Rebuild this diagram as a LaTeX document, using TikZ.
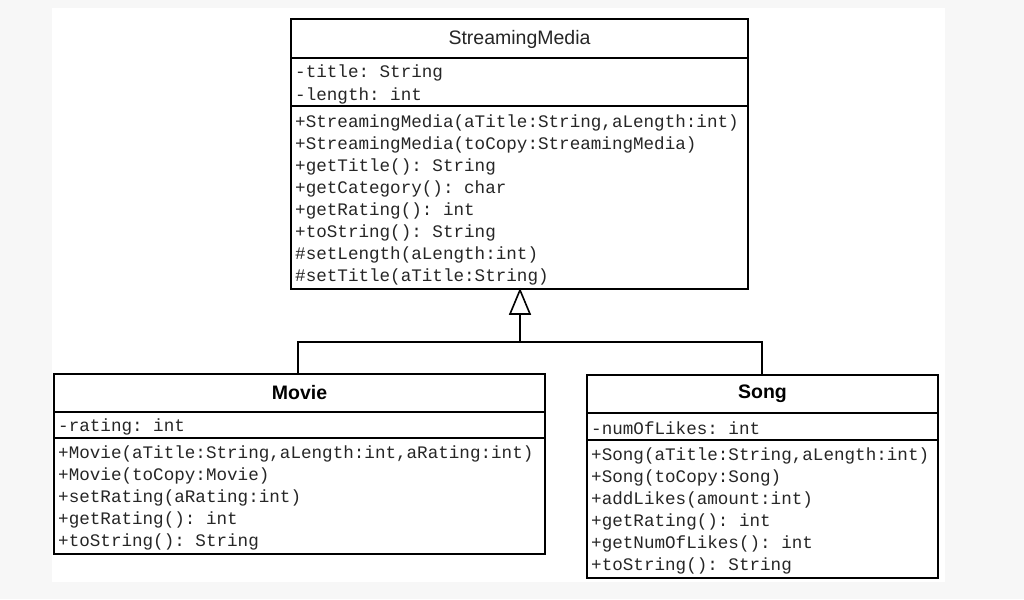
\documentclass[tikz,border=0pt]{standalone}
\usepackage{fontspec}
\setmainfont{Liberation Sans}
\setmonofont{Liberation Mono}
\begin{document}
\begin{tikzpicture}[x=1pt,y=-1pt,
  box/.style={draw,line width=1.6pt},
  mono/.style={anchor=west,inner sep=0pt,font=\ttfamily\fontsize{17.6}{19}\selectfont,text=black!85},
  ttl/.style={inner sep=0pt,font=\fontsize{19.5}{22}\selectfont},
  con/.style={line width=1.6pt}]
\fill[gray!6] (0,0) rectangle (1024,599);
\fill[white] (52,8) rectangle (945,582);
\useasboundingbox (0,0) rectangle (1024,599);
% StreamingMedia
\draw[box] (291,19) rectangle (748,289);
\draw[box] (291,58) -- (748,58);
\draw[box] (291,106) -- (748,106);
\node[ttl,text=black!85] (smt) at (519.5,39) {StreamingMedia};
\foreach \t [count=\i] in {-title: String,-length: int}
  \node[mono] (sa\i) at (295,{73+23*(\i-1)}) {\t};
\foreach \t [count=\i] in {+StreamingMedia(aTitle:String{,}aLength:int),+StreamingMedia(toCopy:StreamingMedia),+getTitle(): String,+getCategory(): char,+getRating(): int,+toString(): String,\#setLength(aLength:int),\#setTitle(aTitle:String)}
  \node[mono] (sm\i) at (295,{123+22*(\i-1)}) {\t};
% Movie
\draw[box] (54,374) rectangle (545,554);
\draw[box] (54,412) -- (545,412);
\draw[box] (54,438) -- (545,438);
\node[ttl,font=\bfseries\fontsize{19.5}{22}\selectfont] (mvt) at (299.5,393) {Movie};
\node[mono] (ma1) at (58,427) {-rating: int};
\foreach \t [count=\i] in {+Movie(aTitle:String{,}aLength:int{,}aRating:int),+Movie(toCopy:Movie),+setRating(aRating:int),+getRating(): int,+toString(): String}
  \node[mono] (mm\i) at (58,{454+22*(\i-1)}) {\t};
% Song
\draw[box] (587,375) rectangle (938,578);
\draw[box] (587,413) -- (938,413);
\draw[box] (587,440) -- (938,440);
\node[ttl,font=\bfseries\fontsize{19.5}{22}\selectfont] (sgt) at (762.5,394) {Song};
\node[mono] (sa) at (591,428) {-numOfLikes: int};
\foreach \t [count=\i] in {+Song(aTitle:String{,}aLength:int),+Song(toCopy:Song),+addLikes(amount:int),+getRating(): int,+getNumOfLikes(): int,+toString(): String}
  \node[mono] (ss\i) at (591,{456+22*(\i-1)}) {\t};
% inheritance
\coordinate (tip) at (520,290);
\coordinate (base) at (520,314);
\coordinate (j) at (520,342);
\coordinate (mv) at (298,373);
\coordinate (sg) at (762,374);
\draw[con,fill=white,line join=miter] (tip) -- (530,314) -- (510,314) -- cycle;
\draw[con] (base) -- (j);
\draw[con] (mv) |- (j) -| (sg);
\end{tikzpicture}
\end{document}
